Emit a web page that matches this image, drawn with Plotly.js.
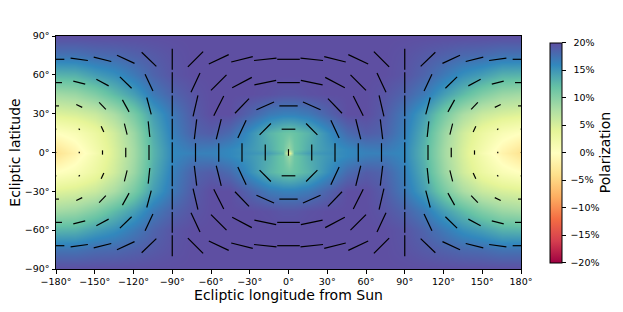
<!DOCTYPE html>
<html><head><meta charset="utf-8">
<script src="https://cdn.plot.ly/plotly-3.0.0.min.js"></script>
<style>html,body{margin:0;padding:0;background:#fff}</style></head>
<body><div id="chart" style="width:623px;height:312px"></div>
<script>
// Heat map: values read for one quadrant (the picture is symmetric in both axes)
const heatLon = [-180,-165,-150,-135,-120,-105,-90,-75,-60,-45,-30,-15,-4,0];
const heatLat = [90,75,60,45,30,15,3,0];
const heat90 = [20,20,20,20,20,20,20,20,20,20,20,20,20,20];
const heat75 = [17.5,17.5,18,18.2,18.7,19.2,19.7,20,20,20,20,20,20,20];
const heat60 = [13,13.2,14.5,15.5,17,18.5,19.5,20,20,20,20,20,20,20];
const heat45 = [8.5,9,10.5,12.5,14.5,17,18.5,19.5,20,20,20,19.8,19.5,19.5];
const heat30 = [4.5,5,6,8,11,14.5,17,19,20,20,18.5,17,16.5,16.5];
const heat15 = [0,1,3,5.5,9,13.5,16.5,18.5,19,18,15.5,13,11.8,11.5];
const heat3 = [-3,-1,2,5,8.5,13,16,17,16.8,16,15,13.5,11.5,9];
const heat0 = [-3.5,-1.5,1.5,5,8.5,13,16,16.5,16.5,16,15.3,14.5,12.5,2];
const heatRows = [heat90,heat75,heat60,heat45,heat30,heat15,heat3,heat0];

// Polarization bars: length (degrees) and angle from horizontal, one quadrant
const barLon = [-180,-162,-144,-126,-108,-90,-72,-54,-36,-18,0];
const barLat = [72,54,36,18,0];
const len72 = [12.9,13.5,14,15,15.8,16.2,16.7,17,17.2,17.5,17.5];
const ang72 = [0,-8,-14,-25,-44,90,45,25,14,6,0];
const len54 = [9.3,9.5,10.8,12.6,14.4,16,16.5,17,17.2,17.2,17.5];
const ang54 = [0,-14,-28,-44,-65,90,65,45,28,12,0];
const len36 = [4.6,5.1,7.5,10.6,13.4,16,16.7,17,15.7,14.9,14.2];
const ang36 = [0,-26,-46,-61,-75,90,77,63,46,24,0];
const len18 = [0.5,1.3,4.9,8.8,12.1,16,15.4,16,15.2,12.4,10.6];
const ang18 = [0,-45,-65,-76,-84,90,83,76,65,45,0];
const len0 = [0.3,1,3.3,7.2,11.6,16,14.4,14.4,14.4,12.4,5.1];
const ang0 = [90,90,90,90,90,90,90,90,90,90,90];
const barLen = [len72,len54,len36,len18,len0];
const barAng = [ang72,ang54,ang36,ang18,ang0];

const tickDeg = [-180,-150,-120,-90,-60,-30,0,30,60,90,120,150,180];
const latDeg = [-90,-60,-30,0,30,60,90];
const cbVals = [-20,-15,-10,-5,0,5,10,15,20];
const cbText = ['\u00a0\u221220%','\u00a0\u221215%','\u00a0\u221210%','\u00a0\u22125%','\u00a0\u00a0\u00a0\u00a00%','\u00a0\u00a0\u00a0\u00a05%','\u00a0\u00a010%','\u00a0\u00a015%','\u00a0\u00a020%'];

const spectral = ['#9e0142','#d53e4f','#f46d43','#fdae61','#fee08b','#ffffbf','#e6f598','#abdda4','#66c2a5','#3288bd','#5e4fa2'];
const colorscale = spectral.map((c,i)=>[i/10,c]);

// Mirror the quadrants
const fullLon = heatLon.concat(heatLon.slice(0,-1).reverse().map(v=>-v));
const fullLat = heatLat.concat(heatLat.slice(0,-1).reverse().map(v=>-v));
const fullRow = r => r.concat(r.slice(0,-1).reverse());
const z = fullLat.map(lat => fullRow(heatRows[heatLat.indexOf(Math.abs(lat))]));

const xs=[], ys=[];
barLat.forEach((lat,r)=>{
  [1,-1].forEach(sy=>{
    if(lat===0 && sy<0) return;
    [1,-1].forEach(sx=>{
      barLon.forEach((lon,c)=>{
        if(lon===0 && sx<0) return;
        const a = barAng[r][c]*Math.PI/180, h = barLen[r][c]/2;
        const dx = h*Math.cos(a)*sx*sy, dy = h*Math.sin(a);
        xs.push(sx*lon-dx, sx*lon+dx, null);
        ys.push(sy*lat-dy, sy*lat+dy, null);
      });
    });
  });
});

const font='"DejaVu Sans", sans-serif';
const data=[
 {type:'heatmap',x:fullLon,y:fullLat,z:z,zmin:-20,zmax:20,zsmooth:'best',colorscale:colorscale,hoverinfo:'skip',
  colorbar:{x:(549.5-56)/466,xanchor:'left',xpad:0,y:0.5,yanchor:'middle',ypad:0,thickness:11.5,thicknessmode:'pixels',
    len:219.5,lenmode:'pixels',outlinecolor:'#000',outlinewidth:1,
    tickmode:'array',tickvals:cbVals,ticktext:cbText,
    ticks:'outside',ticklen:3.5,tickcolor:'#000',tickfont:{family:font,size:9.5,color:'#000'},
    title:{text:'Polarization',side:'right',font:{family:font,size:14,color:'#000'}}}},
 {type:'scatter',mode:'lines',x:xs,y:ys,line:{color:'#000',width:1.2},hoverinfo:'skip',showlegend:false}
];
const axis={showgrid:false,zeroline:false,showline:true,mirror:true,linecolor:'#000',linewidth:1,ticks:'outside',ticklen:3.5,tickcolor:'#000',
  tickfont:{family:font,size:9.5,color:'#000'},tickmode:'array'};
const layout={width:623,height:312,margin:{l:56,r:101,t:36,b:42.5},paper_bgcolor:'#fff',plot_bgcolor:'#fff',showlegend:false,
 xaxis:Object.assign({},axis,{range:[-180,180],tickvals:tickDeg,ticktext:tickDeg.map(v=>(v<0?'\u2212'+(-v):v)+'\u00b0'),
   title:{text:'Ecliptic longitude from Sun',font:{family:font,size:14,color:'#000'},standoff:2}}),
 yaxis:Object.assign({},axis,{range:[-90,90],tickvals:latDeg,ticktext:latDeg.map(v=>(v<0?'\u2212'+(-v):v)+'\u00b0'),
   title:{text:'Ecliptic latitude',font:{family:font,size:14,color:'#000'},standoff:0}})
};
Plotly.newPlot('chart',data,layout,{displayModeBar:false,staticPlot:true});
</script></body></html>
